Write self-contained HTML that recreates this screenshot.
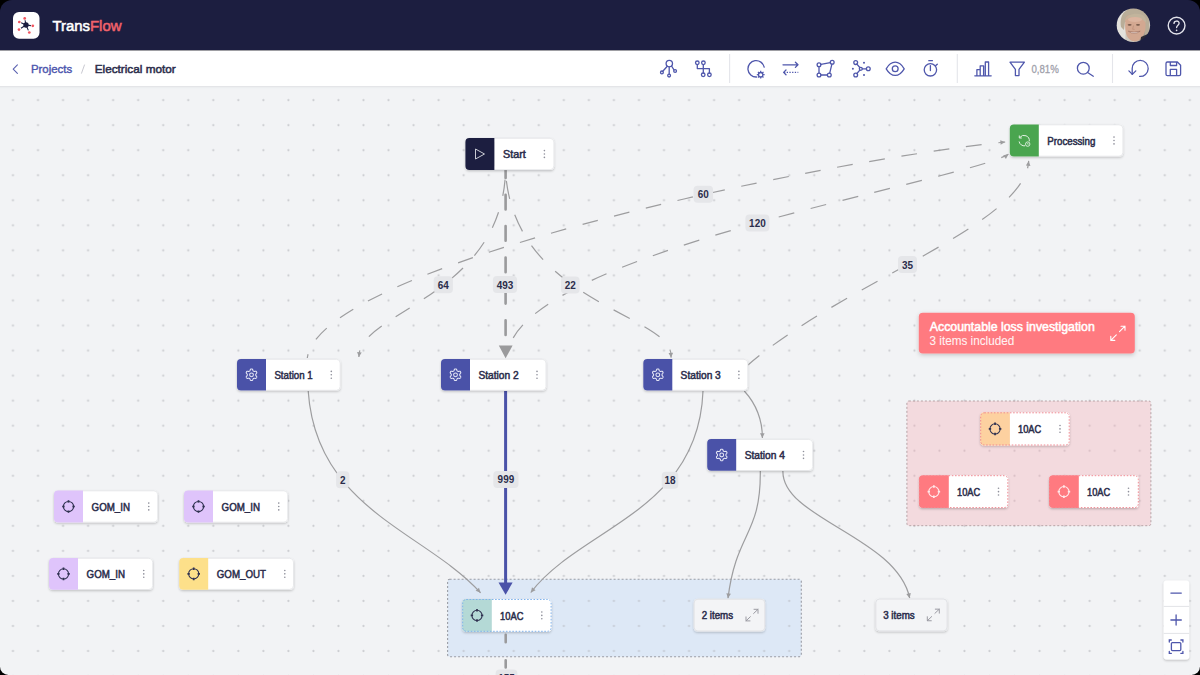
<!DOCTYPE html>
<html><head><meta charset="utf-8"><title>TransFlow - Electrical motor</title><style>html,body{margin:0;padding:0;background:#000;width:1200px;height:675px;overflow:hidden}</style></head><body>
<svg width="1200" height="675" viewBox="0 0 1200 675" font-family="Liberation Sans, sans-serif" style="display:block">
<defs>
<pattern id="dots" x="0" y="0" width="25.04" height="25.04" patternUnits="userSpaceOnUse"><circle cx="12.96" cy="0" r="1.1" fill="#cdced2"/><circle cx="12.96" cy="25.04" r="1.1" fill="#cdced2"/></pattern>
<filter id="sh" x="-20%" y="-30%" width="140%" height="170%"><feDropShadow dx="0" dy="1.2" stdDeviation="1.3" flood-color="#000" flood-opacity="0.22"/></filter>
<filter id="sh2" x="-20%" y="-30%" width="140%" height="170%"><feDropShadow dx="0" dy="1.5" stdDeviation="2" flood-color="#000" flood-opacity="0.2"/></filter>
<clipPath id="app"><path d="M0,12 A12,12 0 0 1 12,0 H1188 A12,12 0 0 1 1200,12 V666.5 A8.5,8.5 0 0 1 1191.5,675 H8.5 A8.5,8.5 0 0 1 0,666.5 Z"/></clipPath>
<marker id="ah" viewBox="0 0 10 10" refX="10" refY="5" markerWidth="4.6" markerHeight="4.6" orient="auto-start-reverse" markerUnits="userSpaceOnUse"><path d="M0,0 L10,5 L0,10 z" fill="#9a9a9c"/></marker>
</defs>
<rect width="1200" height="675" fill="#000"/>
<g clip-path="url(#app)">
<rect x="0" y="86" width="1200" height="589" fill="#f2f3f5"/>
<rect x="0" y="86" width="1200" height="589" fill="url(#dots)"/>
<rect x="0" y="0" width="1200" height="50.4" fill="#1c1e40"/>
<rect x="0" y="50.4" width="1200" height="35.6" fill="#ffffff"/>
<rect x="0" y="86" width="1200" height="1" fill="#e4e5e8"/>
<rect x="0" y="87" width="1200" height="1.2" fill="#eceef0"/>
<rect x="13" y="12" width="26.5" height="26.8" rx="6" fill="#fff"/>
<line x1="26" y1="25" x2="25.06" y2="20.25" stroke="#1c1e40" stroke-width="1.1"/>
<circle cx="24.7" cy="18.4" r="1.35" fill="#f2555f"/>
<line x1="26" y1="25" x2="21.18" y2="22.84" stroke="#1c1e40" stroke-width="1.1"/>
<circle cx="19.3" cy="22" r="1.35" fill="#f2555f"/>
<line x1="26" y1="25" x2="30.90" y2="25.58" stroke="#1c1e40" stroke-width="1.1"/>
<circle cx="32.8" cy="25.8" r="1.35" fill="#f2555f"/>
<line x1="26" y1="25" x2="20.96" y2="28.31" stroke="#1c1e40" stroke-width="1.1"/>
<circle cx="19" cy="29.6" r="1.35" fill="#f2555f"/>
<line x1="26" y1="25" x2="28.38" y2="30.40" stroke="#1c1e40" stroke-width="1.1"/>
<circle cx="29.3" cy="32.5" r="1.35" fill="#f2555f"/>
<circle cx="26" cy="25" r="2.7" fill="#1c1e40"/>
<text x="52.40" y="30.9" font-size="15.4" font-weight="normal" stroke-width="0.55" textLength="69.06" lengthAdjust="spacingAndGlyphs"><tspan fill="#ffffff" stroke="#ffffff">Trans</tspan><tspan fill="#f0626b" stroke="#f0626b">Flow</tspan></text>
<clipPath id="av"><circle cx="1133.4" cy="25.2" r="16.7"/></clipPath>
<filter id="avb" x="-10%" y="-10%" width="120%" height="120%"><feGaussianBlur stdDeviation="0.7"/></filter>
<g clip-path="url(#av)"><g filter="url(#avb)">
<rect x="1114" y="6" width="40" height="40" fill="#cdc8bf"/>
<path d="M1114,10 H1127 L1125,44 H1114 Z" fill="#e3e1dc"/>
<path d="M1140,30 L1152,28 V44 H1138 Z" fill="#a39c92"/>
<path d="M1121,27 C1119,12 1128,7.5 1136,8 C1146,8.5 1150,15 1149,24 L1150,35 L1145,36 L1144,22 L1125,22 L1124,30 Z" fill="#b9ad98"/>
<path d="M1125.2,22 C1125,15 1130,14.5 1135,15.5 C1141,15 1145.5,17 1145.5,24 C1146,32 1143,40 1135,41.5 C1127,41 1124.5,33 1125.2,22 Z" fill="#d3a891"/>
<path d="M1125,21 C1127,15 1133,13 1139,14 C1144,14.5 1146.5,18 1146,23 C1143,18 1137,17 1131,17.5 C1128,18 1126,19.5 1125,21 Z" fill="#c2b49c"/>
<ellipse cx="1135" cy="19.5" rx="7" ry="2.6" fill="#dcb5a0"/>
<ellipse cx="1129.6" cy="24.8" rx="2" ry="0.9" fill="#76594b"/>
<ellipse cx="1138" cy="24.8" rx="2" ry="0.9" fill="#76594b"/>
<path d="M1133.5,25.5 L1132.6,29.2 L1134.6,29.4" fill="none" stroke="#b98b76" stroke-width="0.7"/>
<path d="M1128.3,31.2 Q1134,35.6 1140.2,31.2 Q1134,33 1128.3,31.2 Z" fill="#efe0d8" stroke="#9a6d5e" stroke-width="0.6"/>
<path d="M1141,37 L1150,33 V44 H1140 Z" fill="#2a2b35"/>
<path d="M1126,40 L1130,44 H1118 Z" fill="#3a3c48"/>
</g></g>
<circle cx="1176.6" cy="25.6" r="8.4" fill="none" stroke="#e2e2ea" stroke-width="1.4"/>
<path d="M1174,23.4 C1174,20.3 1179.1,20.3 1179.1,23.2 C1179.1,25.2 1176.6,25.3 1176.6,27.6" fill="none" stroke="#e2e2ea" stroke-width="1.35" stroke-linecap="round"/>
<circle cx="1176.6" cy="30.3" r="0.85" fill="#e2e2ea"/>
<path d="M17.4,64.9 L13.2,69.1 L17.4,73.3" fill="none" stroke="#5a61b0" stroke-width="1.1" stroke-linecap="round" stroke-linejoin="round"/>
<text x="30.90" y="73.00" font-size="11.5" font-weight="normal" fill="#4c55ad" textLength="41.20" lengthAdjust="spacingAndGlyphs" stroke="#4c55ad" stroke-width="0.4">Projects</text>
<line x1="84.6" y1="64.6" x2="81.4" y2="73.6" stroke="#c9c9d1" stroke-width="1"/>
<text x="94.70" y="72.60" font-size="11.3" font-weight="normal" fill="#2b2d4b" textLength="81.00" lengthAdjust="spacingAndGlyphs" stroke="#2b2d4b" stroke-width="0.5">Electrical motor</text>
<g fill="none" stroke="#4f57ac" stroke-width="1.3" stroke-linecap="round" stroke-linejoin="round"><circle cx="669.3" cy="63.6" r="3.2"/><circle cx="661.9" cy="72.4" r="1.4"/><circle cx="669.1" cy="75.6" r="1.4"/><circle cx="675.1" cy="71" r="1.4"/><path d="M669.2,66.8 V74.2 M667.3,66.2 L662.8,71.3 M671.5,66 L674,69.8"/></g>
<g fill="none" stroke="#4f57ac" stroke-width="1.3" stroke-linecap="round" stroke-linejoin="round"><circle cx="697.3" cy="62.8" r="1.8"/><circle cx="703.4" cy="62.8" r="1.8"/><circle cx="703.2" cy="74.8" r="1.8"/><circle cx="709.4" cy="74.8" r="1.8"/><path d="M697.3,64.6 V68.6 H709.4 V73 M703.3,64.6 V73"/></g>
<line x1="729.6" y1="54" x2="729.6" y2="83" stroke="#e4e5ea" stroke-width="1.1"/>
<line x1="957.3" y1="54" x2="957.3" y2="83" stroke="#e4e5ea" stroke-width="1.1"/>
<line x1="1112.5" y1="54" x2="1112.5" y2="83" stroke="#e4e5ea" stroke-width="1.1"/>
<g fill="none" stroke="#4f57ac" stroke-width="1.3" stroke-linecap="round" stroke-linejoin="round"><path d="M756.5,77 A8.2,8.2 0 1 1 764.2,67.2"/><circle cx="760.7" cy="74.7" r="2.2"/></g>
<line x1="763.10" y1="74.70" x2="764.60" y2="74.70" stroke="#4f57ac" stroke-width="1.2"/>
<line x1="762.40" y1="76.40" x2="763.46" y2="77.46" stroke="#4f57ac" stroke-width="1.2"/>
<line x1="760.70" y1="77.10" x2="760.70" y2="78.60" stroke="#4f57ac" stroke-width="1.2"/>
<line x1="759.00" y1="76.40" x2="757.94" y2="77.46" stroke="#4f57ac" stroke-width="1.2"/>
<line x1="758.30" y1="74.70" x2="756.80" y2="74.70" stroke="#4f57ac" stroke-width="1.2"/>
<line x1="759.00" y1="73.00" x2="757.94" y2="71.94" stroke="#4f57ac" stroke-width="1.2"/>
<line x1="760.70" y1="72.30" x2="760.70" y2="70.80" stroke="#4f57ac" stroke-width="1.2"/>
<line x1="762.40" y1="73.00" x2="763.46" y2="71.94" stroke="#4f57ac" stroke-width="1.2"/>
<g fill="none" stroke="#4f57ac" stroke-width="1.3" stroke-linecap="round" stroke-linejoin="round"><path d="M783,64.8 H798 M795.4,62.2 L798,64.8 L795.4,67.4 M786,70 L783.6,72.4 L786,74.8"/></g>
<line x1="784" y1="72.4" x2="798.3" y2="72.4" stroke="#4f57ac" stroke-width="1.3" stroke-dasharray="1.3 1.4"/>
<g fill="none" stroke="#4f57ac" stroke-width="1.3" stroke-linecap="round" stroke-linejoin="round"><circle cx="819" cy="64.8" r="1.9"/><circle cx="832.2" cy="62.2" r="1.9"/><circle cx="819" cy="75" r="1.9"/><circle cx="829.3" cy="75" r="1.9"/><path d="M820.9,64.4 L830.3,62.6 M819,66.7 V73.1 M820.9,75 H827.4 M831.9,64.1 L829.7,73.1"/></g>
<g fill="none" stroke="#4f57ac" stroke-width="1.3" stroke-linecap="round" stroke-linejoin="round"><circle cx="855.7" cy="62.6" r="1.9"/><circle cx="855.7" cy="75" r="1.9"/><circle cx="868.3" cy="68.8" r="1.9"/><circle cx="860.8" cy="68.8" r="1.5"/><path d="M856.9,64.1 L859.8,67.5 M856.9,73.5 L859.8,70.1 M862.3,68.8 H866.4"/></g>
<circle cx="852.9" cy="68.8" r="1" fill="#4f57ac"/>
<circle cx="864" cy="62.7" r="1" fill="#4f57ac"/>
<circle cx="864" cy="75" r="1" fill="#4f57ac"/>
<g fill="none" stroke="#4f57ac" stroke-width="1.3" stroke-linecap="round" stroke-linejoin="round"><path d="M886.2,68.8 C889.5,63.2 893,62.2 895.2,62.2 C897.4,62.2 900.9,63.2 904.2,68.8 C900.9,74.4 897.4,75.4 895.2,75.4 C893,75.4 889.5,74.4 886.2,68.8 Z"/><circle cx="895.2" cy="68.8" r="2.9"/></g>
<g fill="none" stroke="#4f57ac" stroke-width="1.3" stroke-linecap="round" stroke-linejoin="round"><circle cx="930.4" cy="69.8" r="6.2"/><path d="M928.8,60.7 H932.4 M930.4,65.6 V70.6 M935.8,65.6 L937.3,64.2"/></g>
<g fill="none" stroke="#4f57ac" stroke-width="1.3" stroke-linecap="round" stroke-linejoin="round"><path d="M974.8,75.8 H991.2 M976.9,75.8 V69.6 H980.2 V75.8 M980.2,75.8 V65.8 H983.6 V75.8 M985.3,75.8 V62 H988.6 V75.8"/></g>
<g fill="none" stroke="#4f57ac" stroke-width="1.3" stroke-linecap="round" stroke-linejoin="round"><path d="M1010,62.2 H1024.4 L1019,69.4 V75.6 H1015.4 V69.4 Z"/></g>
<text x="1031.40" y="73.00" font-size="11.4" font-weight="normal" fill="#a0a1ab" textLength="27.50" lengthAdjust="spacingAndGlyphs" stroke="#a0a1ab" stroke-width="0.3">0,81%</text>
<g fill="none" stroke="#4f57ac" stroke-width="1.3" stroke-linecap="round" stroke-linejoin="round"><circle cx="1083.3" cy="68.2" r="5.9"/><path d="M1087.6,72.5 L1093.3,76.2"/></g>
<g fill="none" stroke="#4f57ac" stroke-width="1.3" stroke-linecap="round" stroke-linejoin="round"><path d="M1139.6,76.4 A8,8 0 1 0 1132.2,68.6 V74.2"/><path d="M1128.9,70.9 L1132.3,74.4 L1135.8,70.9"/></g>
<g fill="none" stroke="#4f57ac" stroke-width="1.3" stroke-linecap="round" stroke-linejoin="round"><path d="M1167.4,62 H1177.4 L1180.6,65.2 V74.3 A1.4,1.4 0 0 1 1179.2,75.7 H1167.4 A1.4,1.4 0 0 1 1166,74.3 V63.4 A1.4,1.4 0 0 1 1167.4,62 Z M1170.3,62 V65.5 H1176.6 V62 M1170.3,75.7 V69.4 H1176.6 V75.7"/></g>
<pattern id="dots2" x="0" y="0" width="25.04" height="25.04" patternUnits="userSpaceOnUse"><circle cx="12.96" cy="0" r="1.1" fill="#c6ccd6"/><circle cx="12.96" cy="25.04" r="1.1" fill="#c6ccd6"/></pattern>
<rect x="447.6" y="579.3" width="353.7" height="77.4" rx="2" fill="#dde8f6"/>
<rect x="447.6" y="579.3" width="353.7" height="77.4" rx="2" fill="url(#dots2)"/>
<rect x="447.6" y="579.3" width="353.7" height="77.4" rx="2" fill="none" stroke="#9b9da5" stroke-width="1.1" stroke-dasharray="2 2"/>
<rect x="906.9" y="401" width="244" height="124.7" rx="2" fill="#f5a7b0" fill-opacity="0.33" stroke="#b6a3a6" stroke-width="1" stroke-dasharray="2 2"/>
<path d="M 307.30,358.00 C 319.50,266.50 806.10,162.70 1005.20,142.00" fill="none" stroke="#9d9d9f" stroke-width="1.2" stroke-dasharray="15.8 16.8" stroke-dashoffset="11.90"/>
<path d="M1005.20,142.00 L1000.67,144.79 L1000.18,140.22 Z" fill="#9d9d9f"/>
<path d="M 505.50,172.00 C 501.00,297.60 358.40,311.40 358.90,357.00" fill="none" stroke="#9d9d9f" stroke-width="1.2" stroke-dasharray="16.55 16.8" stroke-dashoffset="25.80"/>
<path d="M358.90,357.00 L357.09,351.99 L361.67,352.45 Z" fill="#9d9d9f"/>
<path d="M 505.50,172.00 C 514.60,305.60 675.60,314.00 671.00,357.60" fill="none" stroke="#9d9d9f" stroke-width="1.2" stroke-dasharray="18.25 16.8" stroke-dashoffset="26.20"/>
<path d="M671.00,357.60 L668.54,352.88 L673.13,352.72 Z" fill="#9d9d9f"/>
<path d="M 508.00,352.00 C 525.00,252.00 960.00,182.00 1008.40,154.30" fill="none" stroke="#9d9d9f" stroke-width="1.2" stroke-dasharray="16.1 16.8" stroke-dashoffset="17.70"/>
<path d="M1008.40,154.30 L1005.94,159.02 L1003.18,155.34 Z" fill="#9d9d9f"/>
<path d="M 748.00,365.00 C 844.40,281.50 1025.40,225.50 1028.70,160.90" fill="none" stroke="#9d9d9f" stroke-width="1.2" stroke-dasharray="18.1 16.8" stroke-dashoffset="3.20"/>
<path d="M1028.70,160.90 L1030.42,165.94 L1025.85,165.40 Z" fill="#9d9d9f"/>
<path d="M 308.20,391.00 C 316.00,509.30 425.40,531.80 480.60,592.80" fill="none" stroke="#9d9d9f" stroke-width="1.2"/>
<path d="M480.60,592.80 L475.64,590.86 L479.01,587.72 Z" fill="#9d9d9f"/>
<path d="M 703.00,391.00 C 698.50,512.20 580.10,527.70 530.80,592.50" fill="none" stroke="#9d9d9f" stroke-width="1.2"/>
<path d="M530.80,592.50 L531.98,587.31 L535.58,590.17 Z" fill="#9d9d9f"/>
<path d="M 744.30,391.00 C 757.00,405.00 762.40,420.00 762.40,438.00" fill="none" stroke="#9d9d9f" stroke-width="1.2"/>
<path d="M762.40,438.00 L759.97,433.27 L764.57,433.14 Z" fill="#9d9d9f"/>
<path d="M 760.30,471.00 C 761.00,535.60 736.30,531.40 728.00,598.20" fill="none" stroke="#9d9d9f" stroke-width="1.2"/>
<path d="M728.00,598.20 L726.36,593.14 L730.92,593.75 Z" fill="#9d9d9f"/>
<path d="M 782.90,471.00 C 781.80,518.40 897.10,537.10 909.70,598.20" fill="none" stroke="#9d9d9f" stroke-width="1.2"/>
<path d="M909.70,598.20 L906.29,594.11 L910.75,592.98 Z" fill="#9d9d9f"/>
<line x1="505.6" y1="163.3" x2="505.6" y2="340" stroke="#9a9a9c" stroke-width="2.6" stroke-linecap="round" stroke-dasharray="14.7 16.7"/>
<path d="M498.8,345.6 L512.6,345.6 L505.6,358.3 Z" fill="#9a9a9c"/>
<line x1="505.6" y1="391" x2="505.6" y2="584" stroke="#4a52a8" stroke-width="3"/>
<path d="M498.5,582.6 L512.6,582.6 L505.6,594.8 Z" fill="#4a52a8"/>
<path d="M505.7,634.8 V642.2 M505.7,660.3 V667.4" stroke="#9a9a9c" stroke-width="2.6" stroke-linecap="round"/>
<rect x="433.70" y="276.30" width="19.2" height="17" rx="4" fill="#e5e6e9"/>
<text x="437.77" y="288.80" font-size="10.2" font-weight="bold" fill="#2b2d4b" textLength="11.07" lengthAdjust="spacingAndGlyphs" >64</text>
<rect x="492.90" y="276.00" width="24.2" height="17" rx="4" fill="#e5e6e9"/>
<text x="496.70" y="288.50" font-size="10.2" font-weight="bold" fill="#2b2d4b" textLength="16.60" lengthAdjust="spacingAndGlyphs" >493</text>
<rect x="561.00" y="276.50" width="18.6" height="17" rx="4" fill="#e5e6e9"/>
<text x="564.77" y="289.00" font-size="10.2" font-weight="bold" fill="#2b2d4b" textLength="11.07" lengthAdjust="spacingAndGlyphs" >22</text>
<rect x="693.55" y="185.80" width="19.5" height="17" rx="4" fill="#e5e6e9"/>
<text x="697.77" y="198.30" font-size="10.2" font-weight="bold" fill="#2b2d4b" textLength="11.07" lengthAdjust="spacingAndGlyphs" >60</text>
<rect x="745.40" y="214.60" width="24" height="17" rx="4" fill="#e5e6e9"/>
<text x="749.10" y="227.10" font-size="10.2" font-weight="bold" fill="#2b2d4b" textLength="16.60" lengthAdjust="spacingAndGlyphs" >120</text>
<rect x="898.00" y="256.00" width="19" height="17" rx="4" fill="#e5e6e9"/>
<text x="901.97" y="268.50" font-size="10.2" font-weight="bold" fill="#2b2d4b" textLength="11.07" lengthAdjust="spacingAndGlyphs" >35</text>
<rect x="336.05" y="471.20" width="13.3" height="17" rx="4" fill="#e5e6e9"/>
<text x="339.93" y="483.70" font-size="10.2" font-weight="bold" fill="#2b2d4b" textLength="5.53" lengthAdjust="spacingAndGlyphs" >2</text>
<rect x="493.30" y="470.90" width="25.2" height="17" rx="4" fill="#e5e6e9"/>
<text x="497.60" y="483.40" font-size="10.2" font-weight="bold" fill="#2b2d4b" textLength="16.60" lengthAdjust="spacingAndGlyphs" >999</text>
<rect x="661.70" y="471.80" width="16.6" height="17" rx="4" fill="#e5e6e9"/>
<text x="664.47" y="484.30" font-size="10.2" font-weight="bold" fill="#2b2d4b" textLength="11.07" lengthAdjust="spacingAndGlyphs" >18</text>
<rect x="495.60" y="669.40" width="21.8" height="17" rx="4" fill="#e5e6e9"/>
<text x="498.20" y="681.90" font-size="10.2" font-weight="bold" fill="#2b2d4b" textLength="16.60" lengthAdjust="spacingAndGlyphs" >155</text>
<g filter="url(#sh)"><rect x="465.4" y="138" width="88.8" height="32" rx="4" fill="#ffffff"/></g>
<rect x="465.7" y="138.3" width="88.2" height="31.4" rx="3.8" fill="none" stroke="#dedfe3" stroke-width="0.7"/>
<path d="M469.4,138 H494.4 V170 H469.4 A4,4 0 0 1 465.4,166 V142 A4,4 0 0 1 469.4,138 Z" fill="#1c1e40"/>
<path d="M475.5,149.0 L484.5,154.0 L475.5,159.0 Z" fill="none" stroke="#c9cad3" stroke-width="1" stroke-linejoin="round"/>
<text x="503.00" y="158.30" font-size="10.3" font-weight="normal" fill="#2b2d4b" textLength="22.80" lengthAdjust="spacingAndGlyphs" stroke="#2b2d4b" stroke-width="0.5">Start</text>
<circle cx="544.4" cy="150.60" r="0.82" fill="#8f909b"/>
<circle cx="544.4" cy="154.00" r="0.82" fill="#8f909b"/>
<circle cx="544.4" cy="157.40" r="0.82" fill="#8f909b"/>
<g filter="url(#sh)"><rect x="1009.8" y="124.5" width="113.4" height="32" rx="4" fill="#ffffff"/></g>
<rect x="1010.0999999999999" y="124.8" width="112.80000000000001" height="31.4" rx="3.8" fill="none" stroke="#dedfe3" stroke-width="0.7"/>
<path d="M1013.8,124.5 H1038.8 V156.5 H1013.8 A4,4 0 0 1 1009.8,152.5 V128.5 A4,4 0 0 1 1013.8,124.5 Z" fill="#4aa54f"/>
<path d="M1019.8,137.5 A5.3,5.3 0 0 1 1029.3,141.3" fill="none" stroke="#e3f1e4" stroke-width="1"/>
<path d="M1019.0999999999999,141.5 A5.3,5.3 0 0 0 1025.1,145.8" fill="none" stroke="#e3f1e4" stroke-width="1"/>
<path d="M1019.3,135.5 V138.0 H1021.8" fill="none" stroke="#e3f1e4" stroke-width="1"/>
<circle cx="1027.7" cy="144.1" r="2.2" fill="#4aa54f" stroke="#e3f1e4" stroke-width="0.9"/>
<path d="M1027.7,143.0 V144.2 H1028.6" fill="none" stroke="#e3f1e4" stroke-width="0.7"/>
<text x="1047.30" y="144.80" font-size="10.3" font-weight="normal" fill="#2b2d4b" textLength="48.00" lengthAdjust="spacingAndGlyphs" stroke="#2b2d4b" stroke-width="0.5">Processing</text>
<circle cx="1114" cy="137.10" r="0.82" fill="#8f909b"/>
<circle cx="1114" cy="140.50" r="0.82" fill="#8f909b"/>
<circle cx="1114" cy="143.90" r="0.82" fill="#8f909b"/>
<g filter="url(#sh)"><rect x="237" y="359" width="103.5" height="31.6" rx="4" fill="#ffffff"/></g>
<rect x="237.3" y="359.3" width="102.9" height="31.0" rx="3.8" fill="none" stroke="#dedfe3" stroke-width="0.7"/>
<path d="M241,359 H266 V390.6 H241 A4,4 0 0 1 237,386.6 V363 A4,4 0 0 1 241,359 Z" fill="#4a52a8"/>
<path d="M255.70,374.80 L255.70,375.02 L255.72,375.24 L255.78,375.48 L255.97,375.75 L256.33,376.09 L256.66,376.48 L256.79,376.83 L256.76,377.14 L256.66,377.43 L256.52,377.70 L256.36,377.95 L256.16,378.18 L255.90,378.36 L255.53,378.43 L255.04,378.34 L254.56,378.20 L254.23,378.17 L253.99,378.23 L253.79,378.33 L253.60,378.44 L253.41,378.55 L253.23,378.68 L253.05,378.85 L252.91,379.15 L252.79,379.63 L252.63,380.11 L252.39,380.39 L252.10,380.53 L251.80,380.58 L251.50,380.60 L251.20,380.58 L250.90,380.53 L250.61,380.39 L250.37,380.11 L250.21,379.63 L250.09,379.15 L249.95,378.85 L249.77,378.68 L249.59,378.55 L249.40,378.44 L249.21,378.33 L249.01,378.23 L248.77,378.17 L248.44,378.20 L247.96,378.34 L247.47,378.43 L247.10,378.36 L246.84,378.18 L246.64,377.95 L246.48,377.70 L246.34,377.43 L246.24,377.14 L246.21,376.83 L246.34,376.48 L246.67,376.09 L247.03,375.75 L247.22,375.48 L247.28,375.24 L247.30,375.02 L247.30,374.80 L247.30,374.58 L247.28,374.36 L247.22,374.12 L247.03,373.85 L246.67,373.51 L246.34,373.12 L246.21,372.77 L246.24,372.46 L246.34,372.17 L246.48,371.90 L246.64,371.65 L246.84,371.42 L247.10,371.24 L247.47,371.17 L247.96,371.26 L248.44,371.40 L248.77,371.43 L249.01,371.37 L249.21,371.27 L249.40,371.16 L249.59,371.05 L249.77,370.92 L249.95,370.75 L250.09,370.45 L250.21,369.97 L250.37,369.49 L250.61,369.21 L250.90,369.07 L251.20,369.02 L251.50,369.00 L251.80,369.02 L252.10,369.07 L252.39,369.21 L252.63,369.49 L252.79,369.97 L252.91,370.45 L253.05,370.75 L253.23,370.92 L253.41,371.05 L253.60,371.16 L253.79,371.27 L253.99,371.37 L254.23,371.43 L254.56,371.40 L255.04,371.26 L255.53,371.17 L255.90,371.24 L256.16,371.42 L256.36,371.65 L256.52,371.90 L256.66,372.17 L256.76,372.46 L256.79,372.77 L256.66,373.12 L256.33,373.51 L255.97,373.85 L255.78,374.12 L255.72,374.36 L255.70,374.58 Z" fill="none" stroke="#e6e8f6" stroke-width="1.05" stroke-linejoin="round"/>
<circle cx="251.5" cy="374.8" r="1.9" fill="none" stroke="#e6e8f6" stroke-width="1.05"/>
<text x="274.40" y="379.10" font-size="10.3" font-weight="normal" fill="#2b2d4b" textLength="38.30" lengthAdjust="spacingAndGlyphs" stroke="#2b2d4b" stroke-width="0.5">Station 1</text>
<circle cx="331.3" cy="371.40" r="0.82" fill="#8f909b"/>
<circle cx="331.3" cy="374.80" r="0.82" fill="#8f909b"/>
<circle cx="331.3" cy="378.20" r="0.82" fill="#8f909b"/>
<g filter="url(#sh)"><rect x="441" y="359" width="105.3" height="31.6" rx="4" fill="#ffffff"/></g>
<rect x="441.3" y="359.3" width="104.7" height="31.0" rx="3.8" fill="none" stroke="#dedfe3" stroke-width="0.7"/>
<path d="M445,359 H470 V390.6 H445 A4,4 0 0 1 441,386.6 V363 A4,4 0 0 1 445,359 Z" fill="#4a52a8"/>
<path d="M459.70,374.80 L459.70,375.02 L459.72,375.24 L459.78,375.48 L459.97,375.75 L460.33,376.09 L460.66,376.48 L460.79,376.83 L460.76,377.14 L460.66,377.43 L460.52,377.70 L460.36,377.95 L460.16,378.18 L459.90,378.36 L459.53,378.43 L459.04,378.34 L458.56,378.20 L458.23,378.17 L457.99,378.23 L457.79,378.33 L457.60,378.44 L457.41,378.55 L457.23,378.68 L457.05,378.85 L456.91,379.15 L456.79,379.63 L456.63,380.11 L456.39,380.39 L456.10,380.53 L455.80,380.58 L455.50,380.60 L455.20,380.58 L454.90,380.53 L454.61,380.39 L454.37,380.11 L454.21,379.63 L454.09,379.15 L453.95,378.85 L453.77,378.68 L453.59,378.55 L453.40,378.44 L453.21,378.33 L453.01,378.23 L452.77,378.17 L452.44,378.20 L451.96,378.34 L451.47,378.43 L451.10,378.36 L450.84,378.18 L450.64,377.95 L450.48,377.70 L450.34,377.43 L450.24,377.14 L450.21,376.83 L450.34,376.48 L450.67,376.09 L451.03,375.75 L451.22,375.48 L451.28,375.24 L451.30,375.02 L451.30,374.80 L451.30,374.58 L451.28,374.36 L451.22,374.12 L451.03,373.85 L450.67,373.51 L450.34,373.12 L450.21,372.77 L450.24,372.46 L450.34,372.17 L450.48,371.90 L450.64,371.65 L450.84,371.42 L451.10,371.24 L451.47,371.17 L451.96,371.26 L452.44,371.40 L452.77,371.43 L453.01,371.37 L453.21,371.27 L453.40,371.16 L453.59,371.05 L453.77,370.92 L453.95,370.75 L454.09,370.45 L454.21,369.97 L454.37,369.49 L454.61,369.21 L454.90,369.07 L455.20,369.02 L455.50,369.00 L455.80,369.02 L456.10,369.07 L456.39,369.21 L456.63,369.49 L456.79,369.97 L456.91,370.45 L457.05,370.75 L457.23,370.92 L457.41,371.05 L457.60,371.16 L457.79,371.27 L457.99,371.37 L458.23,371.43 L458.56,371.40 L459.04,371.26 L459.53,371.17 L459.90,371.24 L460.16,371.42 L460.36,371.65 L460.52,371.90 L460.66,372.17 L460.76,372.46 L460.79,372.77 L460.66,373.12 L460.33,373.51 L459.97,373.85 L459.78,374.12 L459.72,374.36 L459.70,374.58 Z" fill="none" stroke="#e6e8f6" stroke-width="1.05" stroke-linejoin="round"/>
<circle cx="455.5" cy="374.8" r="1.9" fill="none" stroke="#e6e8f6" stroke-width="1.05"/>
<text x="478.40" y="379.10" font-size="10.3" font-weight="normal" fill="#2b2d4b" textLength="40.20" lengthAdjust="spacingAndGlyphs" stroke="#2b2d4b" stroke-width="0.5">Station 2</text>
<circle cx="537" cy="371.40" r="0.82" fill="#8f909b"/>
<circle cx="537" cy="374.80" r="0.82" fill="#8f909b"/>
<circle cx="537" cy="378.20" r="0.82" fill="#8f909b"/>
<g filter="url(#sh)"><rect x="643.3" y="359" width="104.8" height="31.6" rx="4" fill="#ffffff"/></g>
<rect x="643.5999999999999" y="359.3" width="104.2" height="31.0" rx="3.8" fill="none" stroke="#dedfe3" stroke-width="0.7"/>
<path d="M647.3,359 H672.3 V390.6 H647.3 A4,4 0 0 1 643.3,386.6 V363 A4,4 0 0 1 647.3,359 Z" fill="#4a52a8"/>
<path d="M662.00,374.80 L662.00,375.02 L662.02,375.24 L662.08,375.48 L662.27,375.75 L662.63,376.09 L662.96,376.48 L663.09,376.83 L663.06,377.14 L662.96,377.43 L662.82,377.70 L662.66,377.95 L662.46,378.18 L662.20,378.36 L661.83,378.43 L661.34,378.34 L660.86,378.20 L660.53,378.17 L660.29,378.23 L660.09,378.33 L659.90,378.44 L659.71,378.55 L659.53,378.68 L659.35,378.85 L659.21,379.15 L659.09,379.63 L658.93,380.11 L658.69,380.39 L658.40,380.53 L658.10,380.58 L657.80,380.60 L657.50,380.58 L657.20,380.53 L656.91,380.39 L656.67,380.11 L656.51,379.63 L656.39,379.15 L656.25,378.85 L656.07,378.68 L655.89,378.55 L655.70,378.44 L655.51,378.33 L655.31,378.23 L655.07,378.17 L654.74,378.20 L654.26,378.34 L653.77,378.43 L653.40,378.36 L653.14,378.18 L652.94,377.95 L652.78,377.70 L652.64,377.43 L652.54,377.14 L652.51,376.83 L652.64,376.48 L652.97,376.09 L653.33,375.75 L653.52,375.48 L653.58,375.24 L653.60,375.02 L653.60,374.80 L653.60,374.58 L653.58,374.36 L653.52,374.12 L653.33,373.85 L652.97,373.51 L652.64,373.12 L652.51,372.77 L652.54,372.46 L652.64,372.17 L652.78,371.90 L652.94,371.65 L653.14,371.42 L653.40,371.24 L653.77,371.17 L654.26,371.26 L654.74,371.40 L655.07,371.43 L655.31,371.37 L655.51,371.27 L655.70,371.16 L655.89,371.05 L656.07,370.92 L656.25,370.75 L656.39,370.45 L656.51,369.97 L656.67,369.49 L656.91,369.21 L657.20,369.07 L657.50,369.02 L657.80,369.00 L658.10,369.02 L658.40,369.07 L658.69,369.21 L658.93,369.49 L659.09,369.97 L659.21,370.45 L659.35,370.75 L659.53,370.92 L659.71,371.05 L659.90,371.16 L660.09,371.27 L660.29,371.37 L660.53,371.43 L660.86,371.40 L661.34,371.26 L661.83,371.17 L662.20,371.24 L662.46,371.42 L662.66,371.65 L662.82,371.90 L662.96,372.17 L663.06,372.46 L663.09,372.77 L662.96,373.12 L662.63,373.51 L662.27,373.85 L662.08,374.12 L662.02,374.36 L662.00,374.58 Z" fill="none" stroke="#e6e8f6" stroke-width="1.05" stroke-linejoin="round"/>
<circle cx="657.8" cy="374.8" r="1.9" fill="none" stroke="#e6e8f6" stroke-width="1.05"/>
<text x="680.60" y="379.10" font-size="10.3" font-weight="normal" fill="#2b2d4b" textLength="40.20" lengthAdjust="spacingAndGlyphs" stroke="#2b2d4b" stroke-width="0.5">Station 3</text>
<circle cx="738.9" cy="371.40" r="0.82" fill="#8f909b"/>
<circle cx="738.9" cy="374.80" r="0.82" fill="#8f909b"/>
<circle cx="738.9" cy="378.20" r="0.82" fill="#8f909b"/>
<g filter="url(#sh)"><rect x="707.2" y="439.1" width="105.8" height="31.7" rx="4" fill="#ffffff"/></g>
<rect x="707.5" y="439.40000000000003" width="105.2" height="31.099999999999998" rx="3.8" fill="none" stroke="#dedfe3" stroke-width="0.7"/>
<path d="M711.2,439.1 H736.2 V470.8 H711.2 A4,4 0 0 1 707.2,466.8 V443.1 A4,4 0 0 1 711.2,439.1 Z" fill="#4a52a8"/>
<path d="M725.90,454.95 L725.90,455.17 L725.92,455.39 L725.98,455.63 L726.17,455.90 L726.53,456.24 L726.86,456.63 L726.99,456.98 L726.96,457.29 L726.86,457.58 L726.72,457.85 L726.56,458.10 L726.36,458.33 L726.10,458.51 L725.73,458.58 L725.24,458.49 L724.76,458.35 L724.43,458.32 L724.19,458.38 L723.99,458.48 L723.80,458.59 L723.61,458.70 L723.43,458.83 L723.25,459.00 L723.11,459.30 L722.99,459.78 L722.83,460.26 L722.59,460.54 L722.30,460.68 L722.00,460.73 L721.70,460.75 L721.40,460.73 L721.10,460.68 L720.81,460.54 L720.57,460.26 L720.41,459.78 L720.29,459.30 L720.15,459.00 L719.97,458.83 L719.79,458.70 L719.60,458.59 L719.41,458.48 L719.21,458.38 L718.97,458.32 L718.64,458.35 L718.16,458.49 L717.67,458.58 L717.30,458.51 L717.04,458.33 L716.84,458.10 L716.68,457.85 L716.54,457.58 L716.44,457.29 L716.41,456.98 L716.54,456.63 L716.87,456.24 L717.23,455.90 L717.42,455.63 L717.48,455.39 L717.50,455.17 L717.50,454.95 L717.50,454.73 L717.48,454.51 L717.42,454.27 L717.23,454.00 L716.87,453.66 L716.54,453.27 L716.41,452.92 L716.44,452.61 L716.54,452.32 L716.68,452.05 L716.84,451.80 L717.04,451.57 L717.30,451.39 L717.67,451.32 L718.16,451.41 L718.64,451.55 L718.97,451.58 L719.21,451.52 L719.41,451.42 L719.60,451.31 L719.79,451.20 L719.97,451.07 L720.15,450.90 L720.29,450.60 L720.41,450.12 L720.57,449.64 L720.81,449.36 L721.10,449.22 L721.40,449.17 L721.70,449.15 L722.00,449.17 L722.30,449.22 L722.59,449.36 L722.83,449.64 L722.99,450.12 L723.11,450.60 L723.25,450.90 L723.43,451.07 L723.61,451.20 L723.80,451.31 L723.99,451.42 L724.19,451.52 L724.43,451.58 L724.76,451.55 L725.24,451.41 L725.73,451.32 L726.10,451.39 L726.36,451.57 L726.56,451.80 L726.72,452.05 L726.86,452.32 L726.96,452.61 L726.99,452.92 L726.86,453.27 L726.53,453.66 L726.17,454.00 L725.98,454.27 L725.92,454.51 L725.90,454.73 Z" fill="none" stroke="#e6e8f6" stroke-width="1.05" stroke-linejoin="round"/>
<circle cx="721.7" cy="454.95000000000005" r="1.9" fill="none" stroke="#e6e8f6" stroke-width="1.05"/>
<text x="744.70" y="459.25" font-size="10.3" font-weight="normal" fill="#2b2d4b" textLength="40.30" lengthAdjust="spacingAndGlyphs" stroke="#2b2d4b" stroke-width="0.5">Station 4</text>
<circle cx="803.5" cy="451.55" r="0.82" fill="#8f909b"/>
<circle cx="803.5" cy="454.95" r="0.82" fill="#8f909b"/>
<circle cx="803.5" cy="458.35" r="0.82" fill="#8f909b"/>
<g filter="url(#sh)"><rect x="54" y="490.5" width="104" height="32" rx="4" fill="#ffffff"/></g>
<rect x="54.3" y="490.8" width="103.4" height="31.4" rx="3.8" fill="none" stroke="#dedfe3" stroke-width="0.7"/>
<path d="M58,490.5 H83 V522.5 H58 A4,4 0 0 1 54,518.5 V494.5 A4,4 0 0 1 58,490.5 Z" fill="#dfc4fb"/>
<circle cx="68.5" cy="506.5" r="5.1" fill="none" stroke="#2f3150" stroke-width="1.05"/>
<line x1="68.50" y1="502.60" x2="68.50" y2="500.20" stroke="#2f3150" stroke-width="1.7"/>
<line x1="68.50" y1="510.40" x2="68.50" y2="512.80" stroke="#2f3150" stroke-width="1.7"/>
<line x1="72.40" y1="506.50" x2="74.80" y2="506.50" stroke="#2f3150" stroke-width="1.7"/>
<line x1="64.60" y1="506.50" x2="62.20" y2="506.50" stroke="#2f3150" stroke-width="1.7"/>
<text x="91.60" y="510.80" font-size="10.3" font-weight="normal" fill="#2b2d4b" textLength="38.40" lengthAdjust="spacingAndGlyphs" stroke="#2b2d4b" stroke-width="0.5">GOM_IN</text>
<circle cx="148.75" cy="503.10" r="0.82" fill="#8f909b"/>
<circle cx="148.75" cy="506.50" r="0.82" fill="#8f909b"/>
<circle cx="148.75" cy="509.90" r="0.82" fill="#8f909b"/>
<g filter="url(#sh)"><rect x="184" y="490.5" width="104" height="32" rx="4" fill="#ffffff"/></g>
<rect x="184.3" y="490.8" width="103.4" height="31.4" rx="3.8" fill="none" stroke="#dedfe3" stroke-width="0.7"/>
<path d="M188,490.5 H213 V522.5 H188 A4,4 0 0 1 184,518.5 V494.5 A4,4 0 0 1 188,490.5 Z" fill="#dfc4fb"/>
<circle cx="198.5" cy="506.5" r="5.1" fill="none" stroke="#2f3150" stroke-width="1.05"/>
<line x1="198.50" y1="502.60" x2="198.50" y2="500.20" stroke="#2f3150" stroke-width="1.7"/>
<line x1="198.50" y1="510.40" x2="198.50" y2="512.80" stroke="#2f3150" stroke-width="1.7"/>
<line x1="202.40" y1="506.50" x2="204.80" y2="506.50" stroke="#2f3150" stroke-width="1.7"/>
<line x1="194.60" y1="506.50" x2="192.20" y2="506.50" stroke="#2f3150" stroke-width="1.7"/>
<text x="221.60" y="510.80" font-size="10.3" font-weight="normal" fill="#2b2d4b" textLength="38.40" lengthAdjust="spacingAndGlyphs" stroke="#2b2d4b" stroke-width="0.5">GOM_IN</text>
<circle cx="278.75" cy="503.10" r="0.82" fill="#8f909b"/>
<circle cx="278.75" cy="506.50" r="0.82" fill="#8f909b"/>
<circle cx="278.75" cy="509.90" r="0.82" fill="#8f909b"/>
<g filter="url(#sh)"><rect x="49" y="558" width="104" height="31.8" rx="4" fill="#ffffff"/></g>
<rect x="49.3" y="558.3" width="103.4" height="31.2" rx="3.8" fill="none" stroke="#dedfe3" stroke-width="0.7"/>
<path d="M53,558 H78 V589.8 H53 A4,4 0 0 1 49,585.8 V562 A4,4 0 0 1 53,558 Z" fill="#dfc4fb"/>
<circle cx="63.5" cy="573.9" r="5.1" fill="none" stroke="#2f3150" stroke-width="1.05"/>
<line x1="63.50" y1="570.00" x2="63.50" y2="567.60" stroke="#2f3150" stroke-width="1.7"/>
<line x1="63.50" y1="577.80" x2="63.50" y2="580.20" stroke="#2f3150" stroke-width="1.7"/>
<line x1="67.40" y1="573.90" x2="69.80" y2="573.90" stroke="#2f3150" stroke-width="1.7"/>
<line x1="59.60" y1="573.90" x2="57.20" y2="573.90" stroke="#2f3150" stroke-width="1.7"/>
<text x="86.60" y="578.20" font-size="10.3" font-weight="normal" fill="#2b2d4b" textLength="38.40" lengthAdjust="spacingAndGlyphs" stroke="#2b2d4b" stroke-width="0.5">GOM_IN</text>
<circle cx="143.75" cy="570.50" r="0.82" fill="#8f909b"/>
<circle cx="143.75" cy="573.90" r="0.82" fill="#8f909b"/>
<circle cx="143.75" cy="577.30" r="0.82" fill="#8f909b"/>
<g filter="url(#sh)"><rect x="179.2" y="558" width="114.6" height="31.7" rx="4" fill="#ffffff"/></g>
<rect x="179.5" y="558.3" width="114.0" height="31.099999999999998" rx="3.8" fill="none" stroke="#dedfe3" stroke-width="0.7"/>
<path d="M183.2,558 H208.2 V589.7 H183.2 A4,4 0 0 1 179.2,585.7 V562 A4,4 0 0 1 183.2,558 Z" fill="#fde08a"/>
<circle cx="193.7" cy="573.85" r="5.1" fill="none" stroke="#2f3150" stroke-width="1.05"/>
<line x1="193.70" y1="569.95" x2="193.70" y2="567.55" stroke="#2f3150" stroke-width="1.7"/>
<line x1="193.70" y1="577.75" x2="193.70" y2="580.15" stroke="#2f3150" stroke-width="1.7"/>
<line x1="197.60" y1="573.85" x2="200.00" y2="573.85" stroke="#2f3150" stroke-width="1.7"/>
<line x1="189.80" y1="573.85" x2="187.40" y2="573.85" stroke="#2f3150" stroke-width="1.7"/>
<text x="216.80" y="578.15" font-size="10.3" font-weight="normal" fill="#2b2d4b" textLength="49.10" lengthAdjust="spacingAndGlyphs" stroke="#2b2d4b" stroke-width="0.5">GOM_OUT</text>
<circle cx="284.8" cy="570.45" r="0.82" fill="#8f909b"/>
<circle cx="284.8" cy="573.85" r="0.82" fill="#8f909b"/>
<circle cx="284.8" cy="577.25" r="0.82" fill="#8f909b"/>
<g filter="url(#sh)"><rect x="462.2" y="599" width="89.4" height="32.8" rx="4" fill="#ffffff"/></g>
<path d="M466.2,599 H491.8 V631.8 H466.2 A4,4 0 0 1 462.2,627.8 V603 A4,4 0 0 1 466.2,599 Z" fill="#b4d9d6"/>
<rect x="462.7" y="599.5" width="88.4" height="31.799999999999997" rx="3.6" fill="none" stroke="#7fb2ec" stroke-width="1" stroke-dasharray="1.6 1.6"/>
<circle cx="477.0" cy="615.4" r="5.1" fill="none" stroke="#2f3150" stroke-width="1.05"/>
<line x1="477.00" y1="611.50" x2="477.00" y2="609.10" stroke="#2f3150" stroke-width="1.7"/>
<line x1="477.00" y1="619.30" x2="477.00" y2="621.70" stroke="#2f3150" stroke-width="1.7"/>
<line x1="480.90" y1="615.40" x2="483.30" y2="615.40" stroke="#2f3150" stroke-width="1.7"/>
<line x1="473.10" y1="615.40" x2="470.70" y2="615.40" stroke="#2f3150" stroke-width="1.7"/>
<text x="500.00" y="619.70" font-size="10.3" font-weight="normal" fill="#2b2d4b" textLength="23.40" lengthAdjust="spacingAndGlyphs" stroke="#2b2d4b" stroke-width="0.5">10AC</text>
<circle cx="541.8" cy="612.00" r="0.82" fill="#8f909b"/>
<circle cx="541.8" cy="615.40" r="0.82" fill="#8f909b"/>
<circle cx="541.8" cy="618.80" r="0.82" fill="#8f909b"/>
<g filter="url(#sh)"><rect x="980.2" y="412.3" width="89.5" height="33.2" rx="4" fill="#ffffff"/></g>
<path d="M984.2,412.3 H1009.9000000000001 V445.5 H984.2 A4,4 0 0 1 980.2,441.5 V416.3 A4,4 0 0 1 984.2,412.3 Z" fill="#fdd1a0"/>
<rect x="980.7" y="412.8" width="88.5" height="32.2" rx="3.6" fill="none" stroke="#f08b93" stroke-width="1" stroke-dasharray="1.6 1.6"/>
<circle cx="995.0500000000001" cy="428.90000000000003" r="5.1" fill="none" stroke="#2f3150" stroke-width="1.05"/>
<line x1="995.05" y1="425.00" x2="995.05" y2="422.60" stroke="#2f3150" stroke-width="1.7"/>
<line x1="995.05" y1="432.80" x2="995.05" y2="435.20" stroke="#2f3150" stroke-width="1.7"/>
<line x1="998.95" y1="428.90" x2="1001.35" y2="428.90" stroke="#2f3150" stroke-width="1.7"/>
<line x1="991.15" y1="428.90" x2="988.75" y2="428.90" stroke="#2f3150" stroke-width="1.7"/>
<text x="1018.00" y="433.20" font-size="10.3" font-weight="normal" fill="#2b2d4b" textLength="23.30" lengthAdjust="spacingAndGlyphs" stroke="#2b2d4b" stroke-width="0.5">10AC</text>
<circle cx="1060" cy="425.50" r="0.82" fill="#8f909b"/>
<circle cx="1060" cy="428.90" r="0.82" fill="#8f909b"/>
<circle cx="1060" cy="432.30" r="0.82" fill="#8f909b"/>
<g filter="url(#sh)"><rect x="918.9" y="475.2" width="89.4" height="32.9" rx="4" fill="#ffffff"/></g>
<path d="M922.9,475.2 H948.8 V508.09999999999997 H922.9 A4,4 0 0 1 918.9,504.09999999999997 V479.2 A4,4 0 0 1 922.9,475.2 Z" fill="#ff7a80"/>
<rect x="919.4" y="475.7" width="88.4" height="31.9" rx="3.6" fill="none" stroke="#f08b93" stroke-width="1" stroke-dasharray="1.6 1.6"/>
<circle cx="933.85" cy="491.65" r="5.1" fill="none" stroke="#ffe9ea" stroke-width="1.05"/>
<line x1="933.85" y1="487.75" x2="933.85" y2="485.35" stroke="#ffe9ea" stroke-width="1.7"/>
<line x1="933.85" y1="495.55" x2="933.85" y2="497.95" stroke="#ffe9ea" stroke-width="1.7"/>
<line x1="937.75" y1="491.65" x2="940.15" y2="491.65" stroke="#ffe9ea" stroke-width="1.7"/>
<line x1="929.95" y1="491.65" x2="927.55" y2="491.65" stroke="#ffe9ea" stroke-width="1.7"/>
<text x="957.00" y="495.95" font-size="10.3" font-weight="normal" fill="#2b2d4b" textLength="23.30" lengthAdjust="spacingAndGlyphs" stroke="#2b2d4b" stroke-width="0.5">10AC</text>
<circle cx="998.5" cy="488.25" r="0.82" fill="#8f909b"/>
<circle cx="998.5" cy="491.65" r="0.82" fill="#8f909b"/>
<circle cx="998.5" cy="495.05" r="0.82" fill="#8f909b"/>
<g filter="url(#sh)"><rect x="1049" y="475.2" width="89.8" height="32.9" rx="4" fill="#ffffff"/></g>
<path d="M1053,475.2 H1078.8 V508.09999999999997 H1053 A4,4 0 0 1 1049,504.09999999999997 V479.2 A4,4 0 0 1 1053,475.2 Z" fill="#ff7a80"/>
<rect x="1049.5" y="475.7" width="88.8" height="31.9" rx="3.6" fill="none" stroke="#f08b93" stroke-width="1" stroke-dasharray="1.6 1.6"/>
<circle cx="1063.9" cy="491.65" r="5.1" fill="none" stroke="#ffe9ea" stroke-width="1.05"/>
<line x1="1063.90" y1="487.75" x2="1063.90" y2="485.35" stroke="#ffe9ea" stroke-width="1.7"/>
<line x1="1063.90" y1="495.55" x2="1063.90" y2="497.95" stroke="#ffe9ea" stroke-width="1.7"/>
<line x1="1067.80" y1="491.65" x2="1070.20" y2="491.65" stroke="#ffe9ea" stroke-width="1.7"/>
<line x1="1060.00" y1="491.65" x2="1057.60" y2="491.65" stroke="#ffe9ea" stroke-width="1.7"/>
<text x="1087.00" y="495.95" font-size="10.3" font-weight="normal" fill="#2b2d4b" textLength="23.30" lengthAdjust="spacingAndGlyphs" stroke="#2b2d4b" stroke-width="0.5">10AC</text>
<circle cx="1128.5" cy="488.25" r="0.82" fill="#8f909b"/>
<circle cx="1128.5" cy="491.65" r="0.82" fill="#8f909b"/>
<circle cx="1128.5" cy="495.05" r="0.82" fill="#8f909b"/>
<g filter="url(#sh)"><rect x="693.7" y="598.8" width="71.5" height="32.6" rx="4" fill="#f3f4f6"/></g>
<rect x="694.1" y="599.1999999999999" width="70.7" height="31.8" rx="3.8" fill="none" stroke="#dcdde1" stroke-width="0.8"/>
<text x="701.70" y="619.40" font-size="10.3" font-weight="normal" fill="#2b2d4b" textLength="31.40" lengthAdjust="spacingAndGlyphs" stroke="#2b2d4b" stroke-width="0.5">2 items</text>
<g fill="none" stroke="#9b9ba3" stroke-width="1" stroke-linecap="round" stroke-linejoin="round"><path d="M746,620.8999999999999 L750.4,616.6999999999999 M746,616.8999999999999 V620.8999999999999 H750"/><path d="M758,609.3 L753.6,613.4999999999999 M754,609.3 H758 V613.3"/></g>
<g filter="url(#sh)"><rect x="875.4" y="598.6" width="72.1" height="32.7" rx="4" fill="#f3f4f6"/></g>
<rect x="875.8" y="599.0" width="71.3" height="31.900000000000002" rx="3.8" fill="none" stroke="#dcdde1" stroke-width="0.8"/>
<text x="883.20" y="619.25" font-size="10.3" font-weight="normal" fill="#2b2d4b" textLength="31.50" lengthAdjust="spacingAndGlyphs" stroke="#2b2d4b" stroke-width="0.5">3 items</text>
<g fill="none" stroke="#9b9ba3" stroke-width="1" stroke-linecap="round" stroke-linejoin="round"><path d="M927.3,620.75 L931.6999999999999,616.5500000000001 M927.3,616.75 V620.75 H931.3"/><path d="M939.3,609.1500000000001 L934.9,613.35 M935.3,609.1500000000001 H939.3 V613.1500000000001"/></g>
<g filter="url(#sh2)"><rect x="918.8" y="312.8" width="216" height="40.8" rx="4" fill="#ff7a80"/></g>
<text x="929.80" y="330.70" font-size="12.1" font-weight="normal" fill="#ffffff" textLength="165.00" lengthAdjust="spacingAndGlyphs" stroke="#ffffff" stroke-width="0.5">Accountable loss investigation</text>
<text x="929.60" y="344.60" font-size="12.1" font-weight="normal" fill="#ffffff" textLength="84.60" lengthAdjust="spacingAndGlyphs" fill-opacity="0.9" stroke="#ffffff" stroke-opacity="0.5" stroke-width="0.2">3 items included</text>
<g fill="none" stroke="#ffffff" stroke-width="1.1" stroke-linecap="round" stroke-linejoin="round"><path d="M1110.8,340.4 L1116.3000000000002,334.9 M1110.8,336.4 V340.4 H1114.8"/><path d="M1125,326.2 L1119.5,331.69999999999993 M1121,326.2 H1125 V330.2"/></g>
<g filter="url(#sh)"><rect x="1163.6" y="580.4" width="25.6" height="79.1" rx="3" fill="#fff"/></g>
<line x1="1163.6" y1="606.4" x2="1189.2" y2="606.4" stroke="#e2e3e7" stroke-width="1"/>
<line x1="1163.6" y1="633.4" x2="1189.2" y2="633.4" stroke="#e2e3e7" stroke-width="1"/>
<g fill="none" stroke="#4f57ac" stroke-width="1.3" stroke-linecap="round"><path d="M1170.9,593.1 H1181.3 M1176.1,614.9 V625.1 M1170.9,620 H1181.3"/><rect x="1171.4" y="642.6" width="9.4" height="8" rx="1"/><path d="M1169.3,642 V640 H1171.3 M1180.9,640 H1182.9 V642 M1182.9,651.4 V653.4 H1180.9 M1171.3,653.4 H1169.3 V651.4"/></g>
</g></svg>
</body></html>
